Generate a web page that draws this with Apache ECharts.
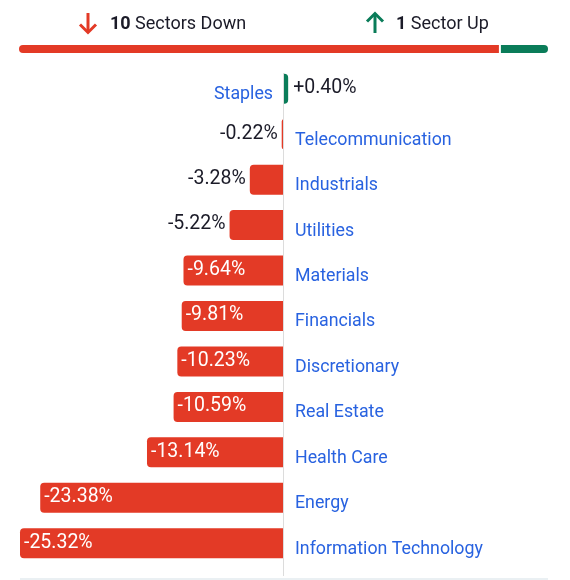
<!DOCTYPE html>
<html><head><meta charset="utf-8">
<script src="https://cdn.jsdelivr.net/npm/echarts@6/dist/echarts.min.js"></script>
<style>html,body{margin:0;padding:0;background:#fff}#c{width:570px;height:580px}</style>
</head><body><div id="c"></div>
<script>
const sectors = ['Staples','Telecommunication','Industrials','Utilities','Materials','Financials','Discretionary','Real Estate','Health Care','Energy','Information Technology'];
const changes = [0.40,-0.22,-3.28,-5.22,-9.64,-9.81,-10.23,-10.59,-13.14,-23.38,-25.32];
const downCount = 10;
const upCount = 1;

const RED = '#E33A26', GREEN = '#0A7C59', BLUE = '#2862E0', DARK = '#1b1b28';
const FONT = 'Roboto';
const maxAbs = Math.max(...changes.map(Math.abs));

const barData = changes.map((v) => {
  const pos = v >= 0;
  const inside = !pos && Math.abs(v) > 8;
  return {
    value: v,
    itemStyle: { color: pos ? GREEN : RED, borderRadius: pos ? [0,4,4,0] : [4,0,0,4] },
    label: {
      show: true,
      position: pos ? 'right' : (inside ? 'insideLeft' : 'left'),
      distance: pos ? 5 : 4,
      color: inside ? '#fff' : DARK,
      offset: [0, -0.5]
    }
  };
});

const nameData = sectors.map((s, i) => ({
  value: [0, s],
  label: { position: changes[i] >= 0 ? 'left' : 'right' }
}));

const chart = echarts.init(document.getElementById('c'));
chart.setOption({
  animation: false,
  grid: [
    { left: 20, right: 22, top: 66, height: 500 },
    { left: 19, right: 22, top: 45, height: 8 }
  ],
  xAxis: [
    { type: 'value', min: -maxAbs, max: maxAbs, show: false },
    { type: 'value', min: 0, max: downCount + upCount, show: false, gridIndex: 1 }
  ],
  yAxis: [
    { type: 'category', data: sectors, inverse: true, show: false },
    { type: 'category', data: ['count'], show: false, gridIndex: 1 }
  ],
  series: [
    {
      type: 'bar', data: barData, barWidth: 30,
      label: {
        fontFamily: FONT, fontSize: 19.5,
        formatter: (p) => (p.value > 0 ? '+' : '') + p.value.toFixed(2) + '%'
      }
    },
    {
      type: 'scatter', data: nameData, symbolSize: 2,
      itemStyle: { color: 'rgba(0,0,0,0)', opacity: 1 },
      label: {
        show: true, distance: 10, offset: [0, 6],
        color: BLUE, fontFamily: FONT, fontSize: 17.8,
        formatter: (p) => sectors[p.dataIndex]
      }
    },
    {
      type: 'bar', xAxisIndex: 1, yAxisIndex: 1, stack: 'c', barWidth: 8,
      data: [downCount], itemStyle: { color: RED, borderRadius: [4,0,0,4] }
    },
    {
      type: 'bar', xAxisIndex: 1, yAxisIndex: 1, stack: 'c', barWidth: 8,
      data: [upCount], itemStyle: { color: GREEN, borderRadius: [0,4,4,0] }
    }
  ]
});

const x0 = chart.convertToPixel({ xAxisIndex: 0 }, 0);
const xj = chart.convertToPixel({ xAxisIndex: 1 }, downCount);
chart.setOption({
  graphic: [
    { type: 'rect', shape: { x: Math.round(x0) - 1, y: 73, width: 1, height: 503 }, style: { fill: '#dcdcdc' }, z: 100 },
    { type: 'rect', shape: { x: 20, y: 578, width: 528, height: 2 }, style: { fill: '#eaf0f3' } },
    { type: 'rect', shape: { x: xj - 1, y: 43, width: 2, height: 12 }, style: { fill: '#fff' }, z: 100 },
    { type: 'polyline', shape: { points: [[88,13],[88,32]] }, style: { stroke: RED, lineWidth: 3, fill: null } },
    { type: 'polyline', shape: { points: [[80,24.5],[88,32.5],[96,24.5]] }, style: { stroke: RED, lineWidth: 3, fill: null } },
    { type: 'polyline', shape: { points: [[375,33],[375,14]] }, style: { stroke: GREEN, lineWidth: 3, fill: null } },
    { type: 'polyline', shape: { points: [[367,21.5],[375,13.5],[383,21.5]] }, style: { stroke: GREEN, lineWidth: 3, fill: null } },
    { type: 'text', x: 110, y: 24, style: {
        text: '{b|' + downCount + '} Sectors Down', fill: DARK, font: '18px ' + FONT, verticalAlign: 'middle',
        rich: { b: { fontWeight: 'bold', fontSize: 18, fontFamily: FONT, fill: DARK } } } },
    { type: 'text', x: 396, y: 24, style: {
        text: '{b|' + upCount + '} Sector Up', fill: DARK, font: '18px ' + FONT, verticalAlign: 'middle',
        rich: { b: { fontWeight: 'bold', fontSize: 18, fontFamily: FONT, fill: DARK } } } }
  ]
});
</script></body></html>
